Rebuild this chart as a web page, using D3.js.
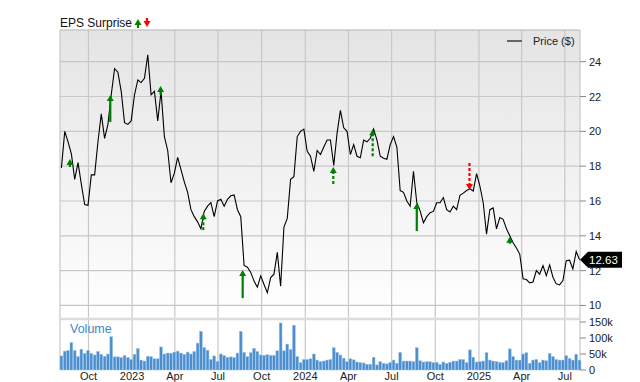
<!DOCTYPE html>
<html>
<head>
  <meta charset="utf-8">
  <title>EPS Surprise</title>
  <style>
    body { margin: 0; background: #fff; }
    text { font-family: "Liberation Sans", Arial, sans-serif; }
  </style>
</head>
<body>
  <svg width="640" height="382"></svg>
  <script src="https://d3js.org/d3.v7.min.js"></script>
  <script>
  // weekly data, first week ends on this Friday
  var startDate = "2022-08-05";

  var weeklyClose = [
    17.9, 20.0, 19.4, 18.7, 17.24, 18.2, 16.95, 15.8, 15.75, 17.5,
    17.5, 19.4, 21.0, 19.6, 20.4, 22.1, 23.6, 23.4, 22.3, 20.5,
    20.4, 20.6, 22.1, 22.95, 22.8, 23.05, 24.4, 22.1, 22.3, 20.6,
    22.3, 19.7, 18.9, 17.05, 17.6, 18.5, 17.8, 17.1, 16.5, 15.5,
    15.1, 14.8, 14.4, 15.4, 15.7, 15.9, 15.1, 16.0, 16.1, 15.7,
    16.1, 16.3, 16.35, 15.5, 15.1, 12.3, 12.2, 11.9, 11.4, 11.05,
    11.7, 11.2, 10.73, 11.6, 11.8, 13.05, 11.1, 14.5, 15.0, 17.24,
    17.4, 19.7, 20.0, 20.13, 18.85, 18.57, 17.7, 18.9, 18.67, 19.1,
    19.5, 19.5, 18.04, 19.9, 21.2, 20.2, 20.0, 18.67, 19.24, 18.57,
    18.48, 19.5, 19.4, 19.6, 20.13, 19.5, 18.57, 18.45, 18.4, 19.24,
    19.7, 19.1, 16.6, 16.5, 16.0, 15.7, 17.7, 15.9, 15.43, 14.75,
    15.1, 15.33, 15.4, 15.9, 15.9, 16.2, 15.5, 15.37, 15.7, 15.5,
    16.33, 16.45, 16.6, 16.7, 16.57, 17.57, 16.86, 15.9, 14.1, 15.5,
    15.6, 14.4, 15.05, 14.95, 14.4, 14.0, 13.6, 13.3, 12.95, 11.53,
    11.49, 11.3, 11.35, 12.0, 11.8, 12.29, 11.71, 12.33, 11.62, 11.24,
    11.18, 11.43, 12.57, 12.6, 12.1, 13.1, 12.63
  ];

  // weekly volume in thousands
  var weeklyVolume = [
    44, 59, 61, 86, 61, 42, 65, 52, 61, 52,
    47, 58, 49, 43, 50, 104, 41, 41, 39, 46,
    39, 33, 49, 67, 31, 28, 43, 42, 35, 35,
    72, 50, 53, 52, 56, 59, 53, 49, 56, 50,
    58, 84, 121, 70, 62, 33, 44, 27, 50, 45,
    40, 41, 39, 53, 121, 55, 42, 54, 68, 58,
    47, 46, 48, 46, 46, 60, 147, 60, 81, 64,
    140, 42, 23, 33, 33, 35, 50, 31, 26,
    28, 31, 33, 70, 55, 47, 37, 26, 35,
    32, 25, 23, 22, 18, 18, 40, 16, 26, 21,
    19, 23, 31, 21, 55, 28, 28, 28, 26, 70,
    29, 25, 26, 26, 23, 24, 18, 25, 21, 24,
    28, 28, 33, 33, 23, 63, 40, 25, 26, 28,
    54, 31, 28, 26, 24, 23, 29, 66, 42, 31,
    31, 50, 54, 21, 31, 33, 23, 31, 29, 52,
    42, 33, 31, 31, 45, 36, 31, 49, 31
  ];

  // EPS surprise markers
  var epsDates = ["2022-08-23", "2022-11-16", "2023-03-02", "2023-05-31", "2023-08-22",
                  "2024-02-29", "2024-05-22", "2024-08-23", "2024-12-12", "2025-03-07"];
  var epsPrice = [18.41, 22.09, 22.6, 15.3, 12.03, 17.95, 20.12, 15.88, 16.63, 13.95];
  var epsSurprisePct = [8.5, 29, 9.5, 18, 30, 20, 31, 30, -30, 7.5];
  var epsKind = ["eps", "eps", "eps", "sales", "eps", "sales", "sales", "eps", "sales", "eps"];

  var priceTicks = [10, 12, 14, 16, 18, 20, 22, 24];
  var volumeTicks = [0, 50, 100, 150];
  var lastPrice = 12.63;

  var parse = d3.timeParse("%Y-%m-%d");
  var start = parse(startDate);
  var priceData = weeklyClose.map(function(v, i) { return { date: d3.timeDay.offset(start, 7 * i), value: v }; });
  var volData = weeklyVolume.map(function(v, i) { return { date: d3.timeDay.offset(start, 7 * i), value: v }; });

  var plotL = 60, plotR = 580, plotT = 30, priceB = 318, volB = 370;

  var svg = d3.select("svg");

  var x = d3.scaleTime()
    .domain([parse("2022-08-02"), parse("2025-08-02")])
    .range([plotL, plotR]);
  var y = d3.scaleLinear().domain([9.28, 25.82]).range([priceB, plotT]);
  var yVol = d3.scaleLinear().domain([0, 150]).range([volB, 322]);
  var arrowLen = d3.scaleLinear().domain([0, 30]).range([0, 28]).clamp(true);

  // background gradient of price panel
  var grad = svg.append("defs").append("linearGradient")
    .attr("id", "bg").attr("x1", 0).attr("y1", 0).attr("x2", 0).attr("y2", 1);
  grad.append("stop").attr("offset", "0%").attr("stop-color", "#e4e4e4");
  grad.append("stop").attr("offset", "100%").attr("stop-color", "#ffffff");

  svg.append("rect")
    .attr("x", plotL).attr("y", plotT)
    .attr("width", plotR - plotL).attr("height", priceB - plotT)
    .attr("fill", "url(#bg)");

  // gridlines
  var xTicks = d3.timeMonth.every(3).range(parse("2022-08-01"), parse("2025-08-02"));
  svg.append("g").selectAll("line")
    .data(xTicks)
    .enter().append("line")
    .attr("x1", function(d) { return x(d); }).attr("x2", function(d) { return x(d); })
    .attr("y1", plotT).attr("y2", volB)
    .attr("stroke", "#c8c8c8").attr("stroke-width", 1.2);

  svg.append("g").selectAll("line")
    .data(priceTicks)
    .enter().append("line")
    .attr("x1", plotL).attr("x2", plotR)
    .attr("y1", function(d) { return y(d); }).attr("y2", function(d) { return y(d); })
    .attr("stroke", "#c8c8c8").attr("stroke-width", 1.2);

  // frame
  svg.append("line").attr("x1", plotL).attr("x2", plotR).attr("y1", plotT).attr("y2", plotT)
    .attr("stroke", "#c8c8c8").attr("stroke-width", 1.5);
  svg.append("line").attr("x1", plotL).attr("x2", plotL).attr("y1", plotT).attr("y2", volB)
    .attr("stroke", "#c8c8c8").attr("stroke-width", 1.2);
  svg.append("line").attr("x1", plotR).attr("x2", plotR).attr("y1", plotT).attr("y2", volB)
    .attr("stroke", "#c8c8c8").attr("stroke-width", 1.2);
  svg.append("line").attr("x1", plotL).attr("x2", plotR).attr("y1", priceB + 1).attr("y2", priceB + 1)
    .attr("stroke", "#dcdcdc").attr("stroke-width", 2.5);

  // volume bars
  var bw = 2.8;
  svg.append("g").selectAll("rect")
    .data(volData)
    .enter().append("rect")
    .attr("x", function(d) { return x(d.date) - bw / 2; })
    .attr("y", function(d) { return yVol(d.value); })
    .attr("width", bw)
    .attr("height", function(d) { return volB - yVol(d.value); })
    .attr("fill", "#4a8ecf")
    .attr("stroke", "#9fc4e8")
    .attr("stroke-width", 0.5);

  svg.append("text").attr("x", 70).attr("y", 333)
    .attr("font-size", 12.5).attr("fill", "#3d86c8").text("Volume");

  // price line
  var line = d3.line()
    .x(function(d) { return x(d.date); })
    .y(function(d) { return y(d.value); });
  svg.append("path")
    .datum(priceData)
    .attr("d", line)
    .attr("fill", "none")
    .attr("stroke", "#000")
    .attr("stroke-width", 1.1);

  // EPS surprise arrows
  function drawArrow(g, cx, tip, len, up, color, dashed) {
    var dir = up ? 1 : -1;
    g.append("line")
      .attr("x1", cx).attr("x2", cx)
      .attr("y1", tip + dir * 4).attr("y2", tip + dir * len)
      .attr("stroke", color).attr("stroke-width", 2.2)
      .attr("stroke-dasharray", dashed ? "3,2" : null);
    g.append("path")
      .attr("d", "M" + cx + "," + tip + "L" + (cx - 3.5) + "," + (tip + dir * 6) + "L" + (cx + 3.5) + "," + (tip + dir * 6) + "Z")
      .attr("fill", color);
  }

  var arrows = svg.append("g");
  epsDates.forEach(function(d, i) {
    var up = epsSurprisePct[i] >= 0;
    drawArrow(arrows, x(parse(d)), y(epsPrice[i]), Math.max(7, arrowLen(Math.abs(epsSurprisePct[i]))),
      up, up ? "#008000" : "#ff0000", epsKind[i] === "sales");
  });

  // right price axis
  var yAxis = svg.append("g").attr("transform", "translate(" + plotR + ",0)");
  yAxis.selectAll("line").data(priceTicks).enter().append("line")
    .attr("x1", 0).attr("x2", 6)
    .attr("y1", function(d) { return y(d); }).attr("y2", function(d) { return y(d); })
    .attr("stroke", "#888");
  yAxis.selectAll("text").data(priceTicks).enter().append("text")
    .attr("x", 9).attr("y", function(d) { return y(d) + 4; })
    .attr("font-size", 11).attr("fill", "#222")
    .text(function(d) { return d; });

  // volume axis
  var vAxis = svg.append("g").attr("transform", "translate(" + plotR + ",0)");
  vAxis.selectAll("line").data(volumeTicks).enter().append("line")
    .attr("x1", 0).attr("x2", 6)
    .attr("y1", function(d) { return yVol(d); }).attr("y2", function(d) { return yVol(d); })
    .attr("stroke", "#888");
  vAxis.selectAll("text").data(volumeTicks).enter().append("text")
    .attr("x", 9).attr("y", function(d) { return yVol(d) + 4; })
    .attr("font-size", 11).attr("fill", "#222")
    .text(function(d) { return d === 0 ? "0" : d + "k"; });

  // x axis labels
  var fmt = function(d) { return d.getMonth() === 0 ? d3.timeFormat("%Y")(d) : d3.timeFormat("%b")(d); };
  svg.append("g").selectAll("text")
    .data(xTicks.filter(function(d) { return x(d) > plotL + 5; }))
    .enter().append("text")
    .attr("x", function(d) { return x(d); })
    .attr("y", 380)
    .attr("text-anchor", "middle")
    .attr("font-size", 11).attr("fill", "#222")
    .text(fmt);

  // last price tag
  var ly = y(lastPrice);
  svg.append("path")
    .attr("d", "M" + plotR + "," + ly + "L" + (plotR + 8) + "," + (ly - 8) + "L622," + (ly - 8) + "L622," + (ly + 8) + "L" + (plotR + 8) + "," + (ly + 8) + "Z")
    .attr("fill", "#000");
  svg.append("text").attr("x", 589).attr("y", ly + 4)
    .attr("font-size", 11.5).attr("fill", "#fff").text(lastPrice.toFixed(2));

  // legend
  svg.append("line").attr("x1", 507).attr("x2", 522).attr("y1", 41).attr("y2", 41)
    .attr("stroke", "#666").attr("stroke-width", 2);
  svg.append("text").attr("x", 533).attr("y", 45)
    .attr("font-size", 11).attr("fill", "#222").text("Price ($)");

  // title with icons
  svg.append("text").attr("x", 60).attr("y", 27)
    .attr("font-size", 12).attr("fill", "#111").text("EPS Surprise");
  var icons = svg.append("g");
  drawArrow(icons, 138, 19, 9, true, "#008000", false);
  drawArrow(icons, 147, 27, 9, false, "#ff0000", false);
  </script>
</body>
</html>
